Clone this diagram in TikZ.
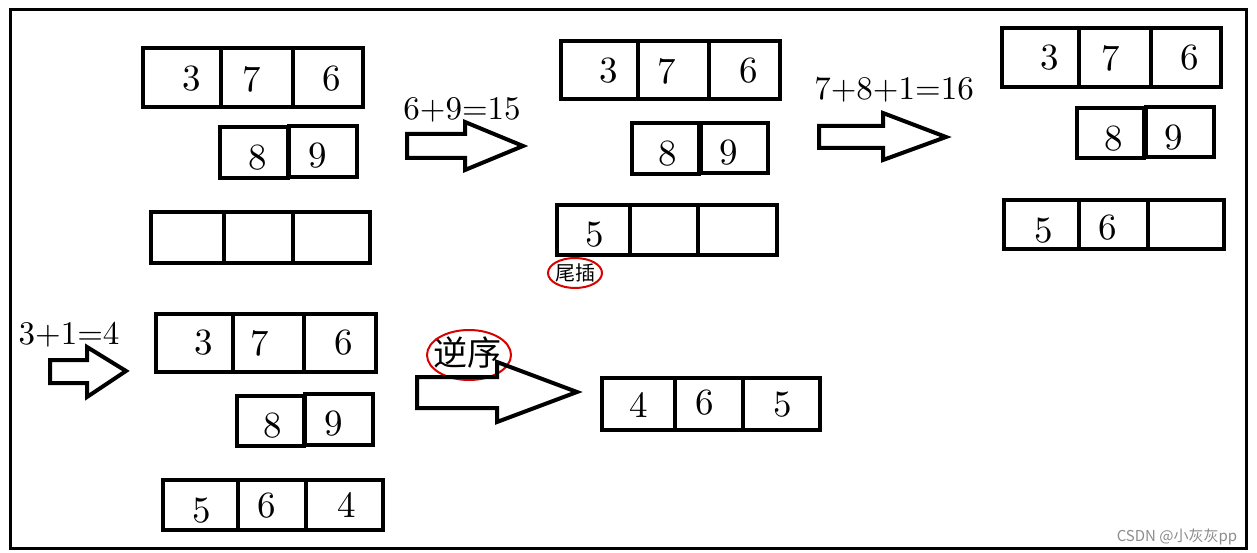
\documentclass[tikz,border=0pt]{standalone}
\usepackage{fontspec}
\newfontfamily\cjk{Noto Sans CJK SC}
\newfontfamily\digitfont{lmroman10-regular.otf}
\usetikzlibrary{calc}

\begin{document}
\begin{tikzpicture}[x=1pt,y=-1pt,
  cell/.style={line width=4pt},
  num/.style={inner sep=0pt,font=\digitfont\fontsize{37}{37}\selectfont},
  sum/.style={inner sep=0pt,font=\digitfont\fontsize{33}{33}\selectfont},
  fatarrow/.style={line width=4pt,line join=miter},
  ring/.style={draw=red!85!black,line width=2pt}]
\useasboundingbox (0,0) rectangle (1257,553);
\draw[line width=3pt] (10,10) rectangle (1246,548);

% start: a = 376, b = 89, empty result
\draw[cell] (143,48) rectangle (363,107) (221,48)--(221,107) (293,48)--(293,107);
\draw[cell] (220,127) rectangle (288,178);
\draw[cell] (289,126) rectangle (357,177);
\draw[cell] (151,212) rectangle (370,263) (224,212)--(224,263) (293,212)--(293,263);
\node[num] (a1) at (192,79) {3};
\node[num] (a2) at (252,79) {7};
\node[num] (a3) at (332,79) {6};
\node[num] (b1) at (258,158) {8};
\node[num] (b2) at (318,156) {9};

% step 1
\node[sum] (s1) at (462,110) {6+9=15};
\draw[fatarrow] (407,134)--(465,134)--(465,122)--(523,146)--(465,170)--(465,158)--(407,158)--cycle;
\draw[cell] (561,41) rectangle (780,99) (638,41)--(638,99) (709,41)--(709,99);
\draw[cell] (632,123) rectangle (699,174);
\draw[cell] (701,123) rectangle (768,173);
\draw[cell] (557,205) rectangle (777,255) (630,205)--(630,255) (698,205)--(698,255);
\node[num] (c1) at (609,71) {3};
\node[num] (c2) at (667,71) {7};
\node[num] (c3) at (749,71) {6};
\node[num] (d1) at (668,154) {8};
\node[num] (d2) at (729,153) {9};
\node[num] (r1) at (595,235) {5};
\node[font=\cjk\fontsize{20}{20}\selectfont,inner sep=0pt] (tail) at (575,273) {尾插};
\draw[ring] (tail) ellipse (27 and 15);

% step 2
\node[sum] (s2) at (894,90) {7+8+1=16};
\draw[fatarrow] (819,126)--(883,126)--(883,113)--(946,137)--(883,160)--(883,148)--(819,148)--cycle;
\draw[cell] (1002,28) rectangle (1221,87) (1079,28)--(1079,87) (1151,28)--(1151,87);
\draw[cell] (1077,108) rectangle (1144,158);
\draw[cell] (1146,107) rectangle (1214,157);
\draw[cell] (1004,200) rectangle (1224,249) (1079,200)--(1079,249) (1148,200)--(1148,249);
\node[num] (e1) at (1050,58) {3};
\node[num] (e2) at (1111,58) {7};
\node[num] (e3) at (1190,58) {6};
\node[num] (f1) at (1114,139) {8};
\node[num] (f2) at (1174,138) {9};
\node[num] (t1) at (1044,231) {5};
\node[num] (t2) at (1108,228) {6};

% step 3
\node[sum] (s3) at (69,335) {3+1=4};
\draw[fatarrow] (50,360)--(87,360)--(87,347)--(126,371)--(87,397)--(87,383)--(50,383)--cycle;
\draw[cell] (156,314) rectangle (376,372) (233,314)--(233,372) (304,314)--(304,372);
\draw[cell] (237,396) rectangle (304,446);
\draw[cell] (305,394) rectangle (373,445);
\draw[cell] (163,480) rectangle (383,530) (238,480)--(238,530) (306,480)--(306,530);
\node[num] (g1) at (204,343) {3};
\node[num] (g2) at (260,343) {7};
\node[num] (g3) at (344,343) {6};
\node[num] (h1) at (273,426) {8};
\node[num] (h2) at (334,424) {9};
\node[num] (u1) at (202,511) {5};
\node[num] (u2) at (267,506) {6};
\node[num] (u3) at (347,505) {4};

% reverse
\node[font=\cjk\fontsize{34}{34}\selectfont,inner sep=0pt] (rev) at (467,353) {逆序};
\draw[ring] (469,355) ellipse (42 and 25);
\draw[fatarrow] (417,377)--(497,377)--(497,362)--(577,392)--(497,422)--(497,408)--(417,408)--cycle;
\draw[cell] (602,378) rectangle (820,430) (675,378)--(675,430) (743,378)--(743,430);
\node[num] (v1) at (639,405) {4};
\node[num] (v2) at (705,403) {6};
\node[num] (v3) at (783,405) {5};

\node[font=\cjk\fontsize{15}{15}\selectfont,text=black!45,inner sep=0pt] (wm) at (1177,537) {CSDN @小灰灰pp};
\end{tikzpicture}
\end{document}
